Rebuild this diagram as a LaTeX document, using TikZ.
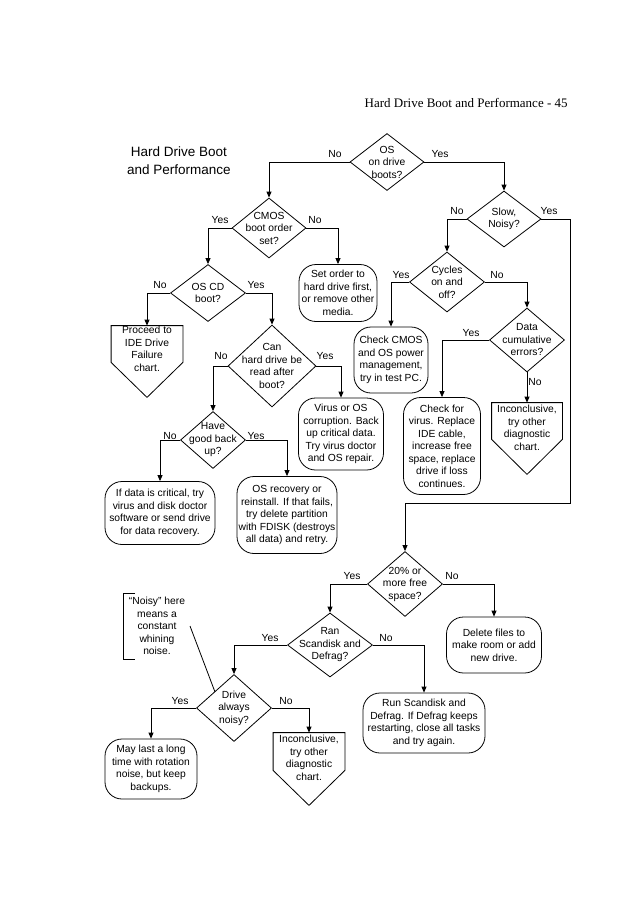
\documentclass[tikz,border=0pt]{standalone}
\usepackage{fontspec}
\setmainfont{Liberation Sans}
\newfontfamily\hdrfont{Liberation Serif}
\usetikzlibrary{shapes.geometric,arrows.meta,calc}
\begin{document}
\begin{tikzpicture}[x=1pt,y=-1pt,line width=0.8pt,
  every node/.style={font=\fontsize{10.3}{12.5}\selectfont,align=center,inner sep=0pt},
  dia/.style={draw,diamond,inner sep=0pt},
  rbox/.style={draw,rectangle,rounded corners=17pt},
  arr/.style={-{Triangle[length=6,width=5]}},
  lbl/.style={font=\fontsize{10.3}{12.5}\selectfont}]
\useasboundingbox (0,0) rectangle (638,902);
\newcommand{\pent}[5]{% name, cx, top, width, shoulder height
  \node[minimum width=#4,minimum height=#5] (#1) at (#2,{#3+#5/2}) {};
  \draw (#1.north west) -- (#1.north east) -- (#1.south east) -- ($(#1.south)+(0,35)$) -- (#1.south west) -- cycle;}
% header and title
\node[anchor=east,font=\hdrfont\fontsize{13}{15}\selectfont] (hdr) at (568,103) {Hard Drive Boot and Performance - 45};
\node[font=\fontsize{13.5}{18}\selectfont] (title) at (179,161) {Hard Drive Boot\\and Performance};
% decisions
\node[dia,minimum width=74,minimum height=57] (os) at (387,162) {};
\node at (os) {OS\\on drive\\boots?};
\node[dia,minimum width=74,minimum height=60] (cmos) at (269,228) {};
\node at (cmos) {CMOS\\boot order\\set?};
\node[dia,minimum width=75,minimum height=57] (oscd) at (208,293) {};
\node at (oscd) {OS CD\\boot?};
\node[dia,minimum width=88,minimum height=82] (can) at (272,366) {};
\node at (can) {Can\\hard drive be\\read after\\boot?};
\node[dia,minimum width=65,minimum height=57] (have) at (213,440) {};
\node at (have) {Have\\good back\\up?};
\node[dia,minimum width=74,minimum height=56] (slow) at (504,219) {};
\node at (slow) {Slow,\\Noisy?};
\node[dia,minimum width=75,minimum height=60] (cyc) at (447,282) {};
\node at (cyc) {Cycles\\on and\\off?};
\node[dia,minimum width=75,minimum height=64] (data) at (527,340) {};
\node at (data) {Data\\cumulative\\errors?};
\node[dia,minimum width=75,minimum height=65] (free) at (405,584) {};
\node at (free) {20\% or\\more free\\space?};
\node[dia,minimum width=85,minimum height=64] (ran) at (330,645) {};
\node at (ran) {Ran\\Scandisk and\\Defrag?};
\node[dia,minimum width=75,minimum height=67] (drv) at (234,708) {};
\node at (drv) {Drive\\always\\noisy?};
% outcomes
\node[rbox,minimum width=78,minimum height=57] (set) at (338,293) {Set order to\\hard drive first,\\or remove other\\media.};
\node[rbox,minimum width=85,minimum height=72] (vir) at (341,434) {Virus or OS\\corruption. Back\\up critical data.\\Try virus doctor\\and OS repair.};
\node[rbox,minimum width=110,minimum height=63] (ifd) at (160,513) {If data is critical, try\\virus and disk doctor\\software or send drive\\for data recovery.};
\node[rbox,minimum width=100,minimum height=77] (osr) at (287,515) {OS recovery or\\reinstall. If that fails,\\try delete partition\\with FDISK (destroys\\all data) and retry.};
\node[rbox,minimum width=74,minimum height=66] (chk) at (391,360) {Check CMOS\\and OS power\\management,\\try in test PC.};
\node[rbox,minimum width=77,minimum height=97] (chv) at (442,446) {Check for\\virus. Replace\\IDE cable,\\increase free\\space, replace\\drive if loss\\continues.};
\node[rbox,minimum width=95,minimum height=56] (del) at (494,645) {Delete files to\\make room or add\\new drive.};
\node[rbox,minimum width=122,minimum height=60] (run) at (424,723) {Run Scandisk and\\Defrag. If Defrag keeps\\restarting, close all tasks\\and try again.};
\node[rbox,minimum width=92,minimum height=60] (may) at (151,769) {May last a long\\time with rotation\\noise, but keep\\backups.};
\pent{ide}{147}{326}{71}{36}
\node at (147,349) {Proceed to\\IDE Drive\\Failure\\chart.};
\pent{inc}{527}{403}{70}{36}
\node at (527,428) {Inconclusive,\\try other\\diagnostic\\chart.};
\pent{inc2}{309}{733}{71}{37}
\node at (309,758) {Inconclusive,\\try other\\diagnostic\\chart.};
% connectors
\draw[arr] (os.west) -| (cmos.north);
\draw[arr] (os.east) -| (slow.north);
\draw[arr] (cmos.west) -| (oscd.north);
\draw[arr] (cmos.east) -| (set.north);
\draw[arr] (oscd.west) -| (ide.north);
\draw[arr] (oscd.east) -| (can.north);
\draw[arr] (can.west) -| (have.north);
\draw[arr] (can.east) -| (vir.north);
\draw[arr] (have.west) -| (ifd.north);
\draw[arr] (have.east) -| (osr.north);
\draw[arr] (slow.west) -| (cyc.north);
\coordinate (bend) at (570,503);
\draw[arr] (slow.east) -| (bend) -| (free.north);
\draw[arr] (cyc.west) -| (chk.north);
\draw[arr] (cyc.east) -| (data.north);
\draw[arr] (data.west) -| (chv.north);
\draw[arr] (data.south) -- (inc.north);
\draw[arr] (free.west) -| (ran.north);
\draw[arr] (free.east) -| (del.north);
\draw[arr] (ran.west) -| (drv.north);
\draw[arr] (ran.east) -| (run.north);
\draw[arr] (drv.west) -| (may.north);
\draw[arr] (drv.east) -| (inc2.north);
% labels
\node[lbl] at (335,154) {No};
\node[lbl] at (440,154) {Yes};
\node[lbl] at (220,220) {Yes};
\node[lbl] at (315,220) {No};
\node[lbl] at (160,285) {No};
\node[lbl] at (256,285) {Yes};
\node[lbl] at (221,356) {No};
\node[lbl] at (325,356) {Yes};
\node[lbl] at (170,436) {No};
\node[lbl] at (256,436) {Yes};
\node[lbl] at (457,211) {No};
\node[lbl] at (549,211) {Yes};
\node[lbl] at (401,275) {Yes};
\node[lbl] at (497,275) {No};
\node[lbl] at (471,333) {Yes};
\node[lbl] at (535,382) {No};
\node[lbl] at (352,576) {Yes};
\node[lbl] at (452,576) {No};
\node[lbl] at (270,638) {Yes};
\node[lbl] at (386,638) {No};
\node[lbl] at (180,701) {Yes};
\node[lbl] at (286,701) {No};
% note
\node (note) at (157,626) {``Noisy'' here\\means a\\constant\\whining\\noise.};
\draw (135,593) -- (123,593) -- (123,659) -- (135,659);
\coordinate (noteend) at (190,626);
\coordinate (drvtip) at (215,692);
\draw (noteend) -- (drvtip);
\end{tikzpicture}
\end{document}
